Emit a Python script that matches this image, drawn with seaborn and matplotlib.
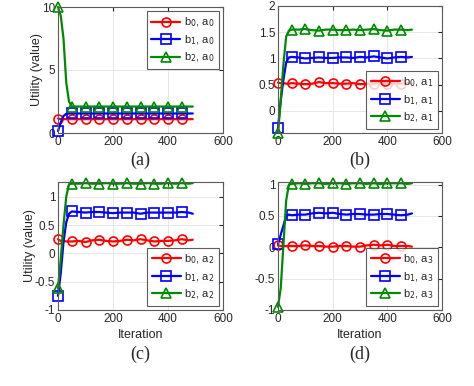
import matplotlib
matplotlib.use("Agg")
import matplotlib.pyplot as plt
import pandas as pd
import seaborn as sns

iters = [0, 10, 20, 30, 40, 50, 75, 100, 125, 150, 175, 200, 225, 250, 275,
         300, 325, 350, 375, 400, 425, 450, 475, 490]

# panel (a): action a0
a0_b0 = [1.15, 1.1, 1.1, 1.1, 1.1, 1.1, 1.1, 1.1, 1.1, 1.1, 1.1, 1.1,
         1.1, 1.1, 1.1, 1.1, 1.1, 1.1, 1.1, 1.1, 1.1, 1.1, 1.1, 1.1]
a0_b1 = [0.15, 0.85, 1.35, 1.52, 1.55, 1.55, 1.55, 1.55, 1.55, 1.55, 1.55, 1.55,
         1.55, 1.55, 1.55, 1.55, 1.55, 1.55, 1.55, 1.55, 1.55, 1.55, 1.55, 1.55]
a0_b2 = [10.0, 9.3, 7.5, 4.0, 2.5, 2.1, 2.1, 2.1, 2.1, 2.1, 2.1, 2.1,
         2.1, 2.1, 2.1, 2.1, 2.1, 2.1, 2.1, 2.1, 2.1, 2.1, 2.1, 2.1]

# panel (b): action a1
a1_b0 = [0.54, 0.53, 0.53, 0.52, 0.52, 0.53, 0.52, 0.51, 0.52, 0.55, 0.53, 0.53,
         0.52, 0.52, 0.53, 0.51, 0.52, 0.52, 0.53, 0.52, 0.52, 0.52, 0.53, 0.52]
a1_b1 = [-0.33, 0.2, 0.6, 0.93, 1.02, 1.03, 1.02, 1.0, 1.01, 1.02, 1.01, 1.01,
         1.02, 1.02, 1.01, 1.03, 1.02, 1.04, 1.02, 1.0, 1.02, 1.03, 1.02, 1.03]
a1_b2 = [-0.42, 0.2, 0.9, 1.42, 1.53, 1.55, 1.55, 1.56, 1.54, 1.53, 1.55, 1.55,
         1.54, 1.54, 1.55, 1.54, 1.55, 1.56, 1.54, 1.53, 1.55, 1.55, 1.54, 1.55]

# panel (c): action a2
a2_b0 = [0.25, 0.22, 0.22, 0.21, 0.21, 0.21, 0.22, 0.2, 0.23, 0.24, 0.22, 0.21,
         0.22, 0.24, 0.23, 0.25, 0.23, 0.21, 0.22, 0.22, 0.23, 0.25, 0.23, 0.24]
a2_b1 = [-0.75, -0.35, 0.2, 0.55, 0.7, 0.74, 0.73, 0.72, 0.73, 0.73, 0.72, 0.71,
         0.72, 0.72, 0.72, 0.70, 0.72, 0.72, 0.72, 0.72, 0.72, 0.73, 0.72, 0.70]
a2_b2 = [-0.62, -0.1, 0.5, 1.0, 1.22, 1.23, 1.23, 1.24, 1.23, 1.23, 1.24, 1.23,
         1.23, 1.24, 1.23, 1.23, 1.24, 1.23, 1.23, 1.24, 1.23, 1.24, 1.23, 1.24]

# panel (d): action a3
a3_b0 = [0.03, 0.02, 0.02, 0.02, 0.02, 0.02, 0.02, 0.03, 0.02, 0.02, 0.01, 0.01,
         0.02, 0.02, 0.01, 0.01, 0.03, 0.04, 0.03, 0.04, 0.02, 0.02, 0.02, 0.01]
a3_b1 = [0.05, 0.2, 0.35, 0.5, 0.52, 0.51, 0.52, 0.52, 0.54, 0.55, 0.54, 0.55,
         0.53, 0.52, 0.53, 0.53, 0.52, 0.52, 0.53, 0.53, 0.52, 0.51, 0.52, 0.54]
a3_b2 = [-0.95, -0.65, 0.05, 0.75, 1.0, 1.01, 1.02, 1.01, 1.02, 1.02, 1.01, 1.02,
         1.02, 1.01, 1.02, 1.02, 1.01, 1.02, 1.01, 1.02, 1.02, 1.02, 1.01, 1.02]

panels = [
    ("a", 0, [a0_b0, a0_b1, a0_b2], (0, 10), [0, 5, 10], "upper right"),
    ("b", 1, [a1_b0, a1_b1, a1_b2], (-0.42, 2), [0, 0.5, 1, 1.5, 2], "lower right"),
    ("c", 2, [a2_b0, a2_b1, a2_b2], (-1, 1.26), [-1, -0.5, 0, 0.5, 1], "lower right"),
    ("d", 3, [a3_b0, a3_b1, a3_b2], (-1, 1.04), [-1, -0.5, 0, 0.5, 1], "lower right"),
]

colors = ["#ff0000", "#0000ff", "#008a00"]
markers = ["o", "s", "^"]
# markers every 50 iterations
mark_idx = [i for i, v in enumerate(iters) if v % 50 == 0 and v <= 450]

sns.set_style("whitegrid")
plt.rcParams["font.family"] = ["Liberation Sans", "DejaVu Sans"]

fig = plt.figure(figsize=(4.74, 3.86), dpi=100)
positions = [
    [58 / 474, 1 - 133 / 386, 165 / 474, 126 / 386],
    [278 / 474, 1 - 133 / 386, 164 / 474, 127 / 386],
    [58 / 474, 1 - 310 / 386, 165 / 474, 128 / 386],
    [278 / 474, 1 - 310 / 386, 164 / 474, 128 / 386],
]

for name, a, series, ylim, yticks, loc in panels:
    ax = fig.add_axes(positions[a])
    for b, vals in enumerate(series):
        df = pd.DataFrame({"Iteration": iters, "value": vals})
        sns.lineplot(data=df, x="Iteration", y="value", ax=ax, color=colors[b],
                     marker=markers[b], markevery=mark_idx, markersize=6.5,
                     markerfacecolor="none", markeredgecolor=colors[b],
                     markeredgewidth=1.2, linewidth=1.6, clip_on=False,
                     label="b$_{%d}$, a$_{%d}$" % (b, a))
    ax.set_xlim(0, 600)
    ax.set_ylim(*ylim)
    ax.set_xticks([0, 200, 400, 600])
    ax.set_yticks(yticks)
    ax.set_yticklabels([("%g" % t) for t in yticks])
    ax.tick_params(direction="in", length=3, labelsize=8.5, colors="#262626",
                   top=True, right=True, pad=2)
    ax.grid(True, color="#e6e6e6", linewidth=0.7)
    for s in ax.spines.values():
        s.set_color("#5a5a5a")
        s.set_linewidth(0.8)
    ax.set_xlabel("Iteration" if a >= 2 else "", fontsize=9, labelpad=3)
    ax.set_ylabel("Utility (value)" if a % 2 == 0 else "", fontsize=9, labelpad=-1)
    leg = ax.legend(loc=loc, fontsize=8, frameon=True, fancybox=False,
                    borderpad=0.4, labelspacing=0.35, handlelength=2.6,
                    handletextpad=0.3, borderaxespad=0.4)
    leg.get_frame().set_edgecolor("#333333")
    leg.get_frame().set_linewidth(0.8)
    # panel caption below the axes
    cap_y = -0.215 if a < 2 else -0.35
    ax.text(0.5, cap_y, "(%s)" % name, transform=ax.transAxes, ha="center",
            va="center", fontsize=13, family="Liberation Serif")

fig.savefig("out.png", dpi=100)
